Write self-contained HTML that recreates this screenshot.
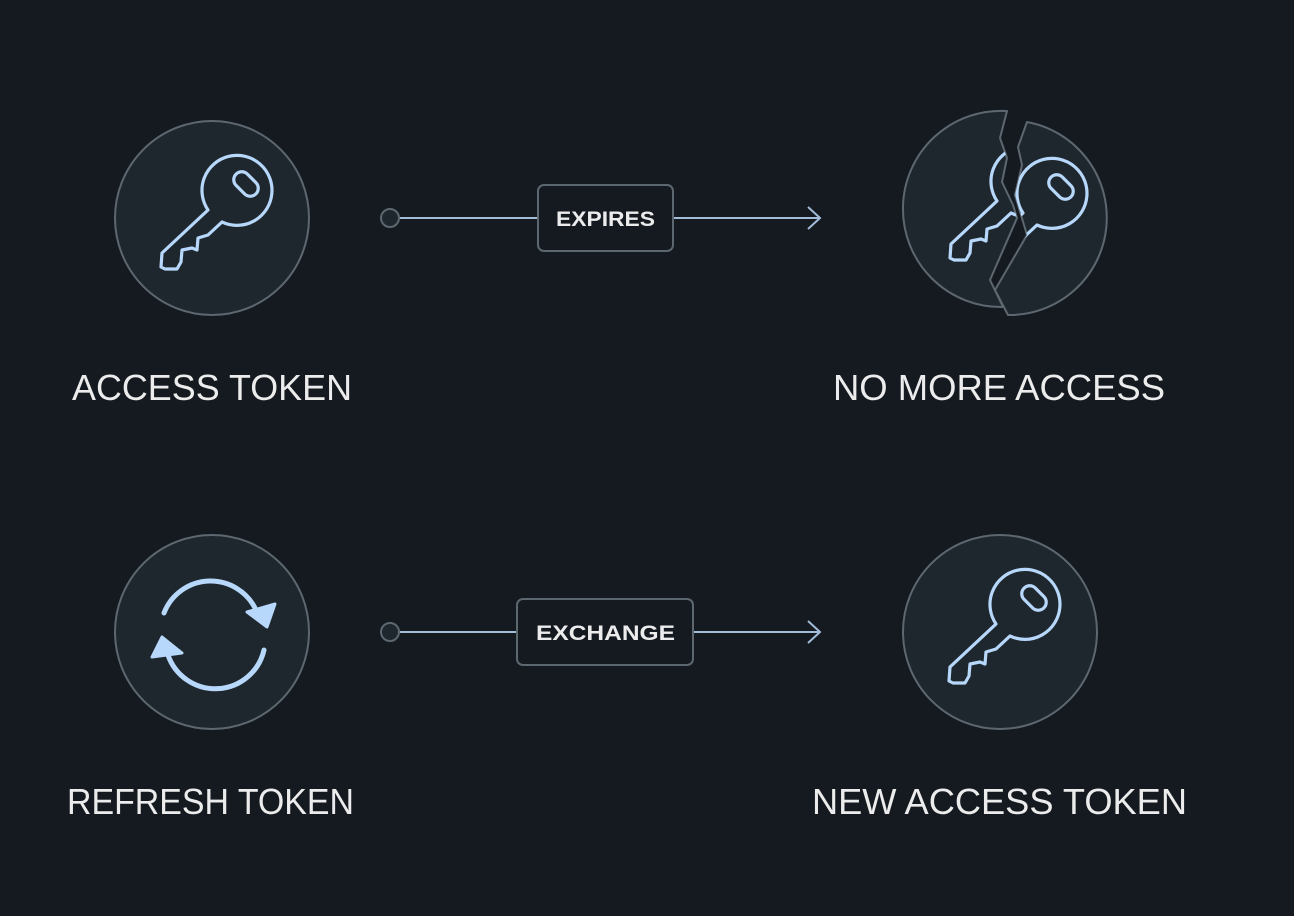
<!DOCTYPE html>
<html><head><meta charset="utf-8"><style>
html,body{margin:0;padding:0;background:#151a21;}
svg{display:block}
</style></head><body>
<svg width="1294" height="916" viewBox="0 0 1294 916" xmlns="http://www.w3.org/2000/svg">
<defs>
  <g id="key">
    <path d="M208,210 L162,253 L161,267 L165,269 L177,269 L181,262 L182,250 L192,248 L197,250 L198,238 L208,235 L222,222 A35,35 0 1 0 208,210 Z" fill="none" stroke="#b7d8fb" stroke-width="3.2" stroke-linejoin="round"/>
    <rect x="-8" y="-14" width="16" height="28" rx="8" transform="translate(246,184) rotate(-45)" fill="none" stroke="#b7d8fb" stroke-width="3.2"/>
  </g>
  <path id="pl" d="M1007,111 A98.1,98.1 0 1 0 1003,307 L990,280 L1017,218 L1013,205 L1002,182 L1007,158 L1000,138 Z"/>
  <path id="pr" d="M1027,122 A97.3,97.3 0 0 1 1008,315 L995,290 L1027,235 L1015,195 L1022,165 L1018,147 Z"/>
  <clipPath id="cl"><use href="#pl"/></clipPath>
  <clipPath id="cr"><use href="#pr"/></clipPath>
</defs>
<rect width="1294" height="916" fill="#151a21"/>

<circle cx="212" cy="218" r="97" fill="#1f272e" stroke="#5d676f" stroke-width="2"/>
<use href="#key"/>

<use href="#pl" fill="#1f272e" stroke="#5d676f" stroke-width="2" stroke-linejoin="round"/>
<use href="#pr" fill="#1f272e" stroke="#5d676f" stroke-width="2" stroke-linejoin="round"/>
<g clip-path="url(#cl)"><use href="#key" transform="translate(789,-9)"/></g>
<g clip-path="url(#cr)"><use href="#key" transform="translate(815,3)"/></g>

<circle cx="212" cy="632" r="97" fill="#1f272e" stroke="#5d676f" stroke-width="2"/>
<path d="M164,613 A50,50 0 0 1 256,610" fill="none" stroke="#b7d8fb" stroke-width="5" stroke-linecap="round"/>
<polygon points="247,612 275,604 267,627" fill="#b7d8fb" stroke="#b7d8fb" stroke-width="3" stroke-linejoin="round"/>
<path d="M264,650 A50,50 0 0 1 168,655" fill="none" stroke="#b7d8fb" stroke-width="5" stroke-linecap="round"/>
<polygon points="152,657 162,637 182,653" fill="#b7d8fb" stroke="#b7d8fb" stroke-width="3" stroke-linejoin="round"/>

<circle cx="1000" cy="632" r="97" fill="#1f272e" stroke="#5d676f" stroke-width="2"/>
<use href="#key" transform="translate(788,414)"/>

<g stroke="#a3bcd8" stroke-width="2" fill="none">
  <line x1="399" y1="218" x2="538" y2="218"/>
  <line x1="674" y1="218" x2="820" y2="218"/>
  <polyline points="808,207 820,218 808,229"/>
  <line x1="399" y1="632" x2="517" y2="632"/>
  <line x1="694" y1="632" x2="820" y2="632"/>
  <polyline points="808,621 820,632 808,643"/>
</g>
<circle cx="390" cy="218" r="9" fill="#1f272e" stroke="#5d676f" stroke-width="2"/>
<circle cx="390" cy="632" r="9" fill="#1f272e" stroke="#5d676f" stroke-width="2"/>
<rect x="538" y="185" width="135" height="66" rx="6" fill="#151a21" stroke="#5d676f" stroke-width="2"/>
<rect x="517" y="599" width="176" height="66" rx="6" fill="#151a21" stroke="#5d676f" stroke-width="2"/>

<g font-family="Liberation Sans, sans-serif" fill="#ececec" text-anchor="middle">
  <text x="605.5" y="226" font-size="21" font-weight="bold" textLength="99" lengthAdjust="spacingAndGlyphs">EXPIRES</text>
  <text x="605.5" y="640" font-size="21" font-weight="bold" textLength="139" lengthAdjust="spacingAndGlyphs">EXCHANGE</text>
  <text x="212" y="400" font-size="36" textLength="280" lengthAdjust="spacingAndGlyphs">ACCESS TOKEN</text>
  <text x="999" y="400" font-size="36" textLength="332" lengthAdjust="spacingAndGlyphs">NO MORE ACCESS</text>
  <text x="210.5" y="814" font-size="36" textLength="287" lengthAdjust="spacingAndGlyphs">REFRESH TOKEN</text>
  <text x="999.5" y="814" font-size="36" textLength="375" lengthAdjust="spacingAndGlyphs">NEW ACCESS TOKEN</text>
</g>
</svg>
</body></html>
